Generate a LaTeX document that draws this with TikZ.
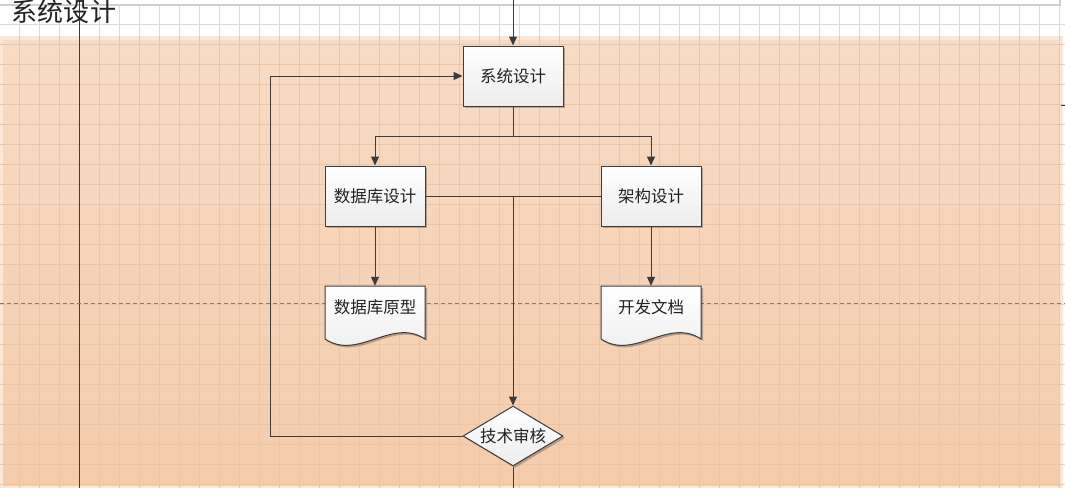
\documentclass[tikz,border=0pt]{standalone}
\usepackage{fontspec}
\newfontfamily\cjk{Noto Sans CJK SC}
\usetikzlibrary{arrows.meta,shadows,shapes.geometric}
\definecolor{orangetop}{HTML}{F7DBC5}
\definecolor{orangebot}{HTML}{F4CCAC}
\definecolor{orangelight}{HTML}{FCE6D6}
\definecolor{gridw}{HTML}{DCDCDC}
\definecolor{grido}{HTML}{EAC6A9}
\definecolor{topline}{HTML}{CFCFCF}
\definecolor{dashc}{HTML}{9E7460}
\definecolor{conn}{HTML}{3C3C3C}
\definecolor{boxbot}{HTML}{ECECEC}
\definecolor{txt}{HTML}{222222}
\tikzset{
  connline/.style={draw=conn, line width=1pt},
  arr/.style={connline, -{Triangle[length=9pt,width=8pt]}},
  procbox/.style={rectangle, draw=conn, line width=1pt, minimum width=100pt, minimum height=60pt,
    top color=white, bottom color=boxbot, inner sep=0pt,
    drop shadow={shadow xshift=2pt, shadow yshift=-2pt, opacity=0.25, fill=black},
    font=\cjk\fontsize{16.5}{18}\selectfont, text=txt},
  docshape/.style={draw=conn, line width=1pt, top color=white, bottom color=boxbot,
    drop shadow={shadow xshift=2pt, shadow yshift=-2pt, opacity=0.25, fill=black}},
  doctext/.style={rectangle, minimum width=100pt, minimum height=42pt, inner sep=0pt,
    font=\cjk\fontsize{16.5}{18}\selectfont, text=txt},
  diabox/.style={diamond, shape aspect=1.6667, draw=conn, line width=1pt, minimum width=100pt,
    minimum height=60pt, inner sep=0pt, top color=white, bottom color=boxbot,
    drop shadow={shadow xshift=2pt, shadow yshift=-2pt, opacity=0.25, fill=black},
    font=\cjk\fontsize{16.5}{18}\selectfont, text=txt},
}
\begin{document}
\begin{tikzpicture}[x=1pt,y=-1pt]
\useasboundingbox (0,0) rectangle (1065,488);
\fill[white] (0,0) rectangle (1065,488);
% grid in white header
\foreach \x in {19.5,39.5,...,1059.5} \draw[gridw, line width=1pt] (\x,4) -- (\x,36);
\draw[gridw, line width=1pt] (0,24.5) -- (1065,24.5);
\foreach \y in {44.5,64.5,...,484.5} \draw[gridw, line width=1pt] (1060,\y) -- (1065,\y);
% top line
\draw[topline, line width=2pt] (0,5) -- (1060,5);
\draw[topline, line width=1.5pt] (1060,0) -- (1060,6);
% orange lane
\fill[orangelight] (0,36) rectangle (1063,488);
\shade[top color=orangetop, bottom color=orangebot] (3,40) rectangle (1059,485);
\foreach \x in {19.5,39.5,...,1059.5} \draw[grido, line width=1pt] (\x,36) -- (\x,488);
\foreach \y in {44.5,64.5,...,484.5} \draw[grido, line width=1pt] (0,\y) -- (1063,\y);
% lane divider and dashed line
\draw[conn, line width=1pt] (79.5,0) -- (79.5,488);
\draw[dashc, line width=0.8pt, dash pattern=on 4pt off 3pt] (0,303.5) -- (1065,303.5);
\draw[conn, line width=1pt] (1061,105.5) -- (1065,105.5);
% title
\node[font=\cjk\fontsize{26}{28}\selectfont, text=txt, inner sep=0pt] (title) at (64,12) {系统设计};
% document shapes
\path[docshape] (325,286) -- (425,286) -- (425,339) .. controls (392,317) and (358,361) .. (325,339) -- cycle;
\path[docshape] (601,286) -- (701,286) -- (701,339) .. controls (668,317) and (634,361) .. (601,339) -- cycle;
% nodes
\node[procbox] (sys) at (513,76) {系统设计};
\node[procbox] (db) at (375,196) {数据库设计};
\node[procbox] (arch) at (651,196) {架构设计};
\node[doctext] (proto) at (375,307) {数据库原型};
\node[doctext] (devdoc) at (651,307) {开发文档};
\node[diabox] (rev) at (513,436) {技术审核};
\coordinate (topin) at (513,0);
\coordinate (botout) at (513,488);
% connectors
\draw[arr] (topin) -- (sys.north);
\draw[connline] (sys.south) -- ++(0,30) coordinate (split);
\draw[arr] (split) -| (db.north);
\draw[arr] (split) -| (arch.north);
\draw[connline] (db.east) -- (arch.west);
\coordinate (mid) at (db.east -| sys.south);
\draw[arr] (mid) -- (rev.north);
\draw[arr] (db.south) -- (proto.north);
\draw[arr] (arch.south) -- (devdoc.north);
\draw[arr] (rev.west) -- ++(-192,0) |- (sys.west);
\draw[connline] (rev.south) -- (botout);
\end{tikzpicture}
\end{document}
